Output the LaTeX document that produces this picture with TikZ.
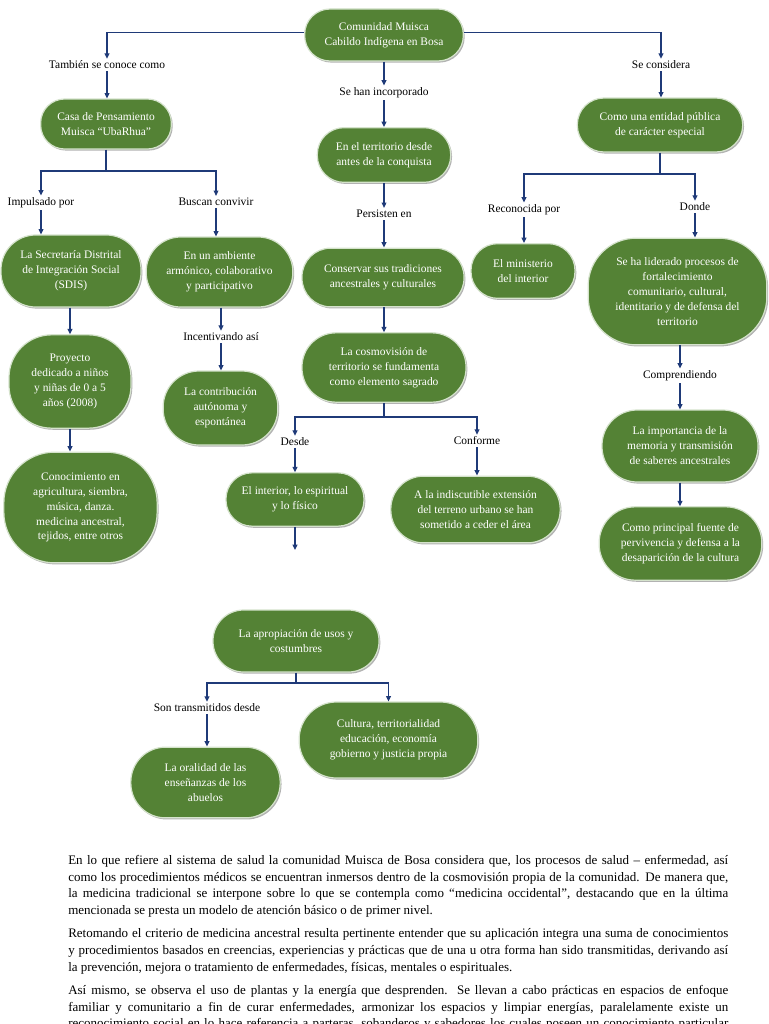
\documentclass[tikz,border=0pt]{standalone}
\usepackage{fontspec}
\setmainfont{Liberation Serif}
\usetikzlibrary{arrows.meta,shadows}
\definecolor{gfill}{HTML}{548235}
\definecolor{gline}{HTML}{D5E3CC}
\definecolor{navy}{HTML}{1F3A78}
\begin{document}
\begin{tikzpicture}[x=0.75pt,y=-0.75pt,
 gn/.style n args={3}{draw=gline, line width=0.9pt, fill=gfill, text=white, align=center,
   font=\fontsize{8.6}{11.2}\selectfont, minimum width=#1, minimum height=#2,
   rounded corners=#3, inner sep=1pt,
   drop shadow={shadow xshift=1pt, shadow yshift=-1.2pt, opacity=0.3, fill=black}},
 lb/.style={font=\fontsize{8.6}{11.2}\selectfont, inner sep=1.5pt},
 ln/.style={draw=navy, line width=0.9pt},
 arr/.style={ln, -{Triangle[width=3.6pt,length=4pt]}}
]
\useasboundingbox (0,0) rectangle (768,1024);
\fill[white] (0,0) rectangle (768,1024);
\clip (0,0) rectangle (768,1024);

% nodes
\node[gn={119pt}{39pt}{19pt}] (n1) at (384,35) {Comunidad Muisca\\Cabildo Indígena en Bosa};
\node[gn={98pt}{37.5pt}{18pt}] (n2) at (106,124) {Casa de Pensamiento\\Muisca “UbaRhua”};
\node[gn={100pt}{41pt}{20pt}] (n3) at (384,155) {En el territorio desde\\antes de la conquista};
\node[gn={124pt}{40.5pt}{20pt}] (n4) at (660,125) {Como una entidad pública\\de carácter especial};
\node[gn={105pt}{54pt}{26pt}] (n5) at (71,271) {La Secretaría Distrital\\de Integración Social\\(SDIS)};
\node[gn={110pt}{52.5pt}{26pt}] (n6) at (219.5,272) {En un ambiente\\armónico, colaborativo\\y participativo};
\node[gn={121.5pt}{44pt}{21.5pt}] (n7) at (383,277.5) {Conservar sus tradiciones\\ancestrales y culturales};
\node[gn={78pt}{41pt}{20pt}] (n8) at (523,271) {El ministerio\\del interior};
\node[gn={134pt}{80pt}{36pt}] (n9) at (677.5,291.5) {Se ha liderado procesos de\\fortalecimiento\\comunitario, cultural,\\identitario y de defensa del\\territorio};
\node[gn={91.5pt}{70pt}{32pt}] (n10) at (70,381.5) {Proyecto\\dedicado a niños\\y niñas de 0 a 5\\años (2008)};
\node[gn={86pt}{55.5pt}{27pt}] (n11) at (220.5,408) {La contribución\\autónoma y\\espontánea};
\node[gn={123pt}{52pt}{25.5pt}] (n12) at (384,367.5) {La cosmovisión de\\territorio se fundamenta\\como elemento sagrado};
\node[gn={115pt}{83pt}{38pt}] (n13) at (80.5,507.5) {Conocimiento en\\agricultura, siembra,\\música, danza.\\medicina ancestral,\\tejidos, entre otros};
\node[gn={103.5pt}{40pt}{19.5pt}] (n14) at (295,499.5) {El interior, lo espiritual\\y lo físico};
\node[gn={127pt}{50pt}{24.5pt}] (n15) at (475.5,509.5) {A la indiscutible extensión\\del terreno urbano se han\\sometido a ceder el área};
\node[gn={117pt}{54pt}{26.5pt}] (n16) at (680,446) {La importancia de la\\memoria y transmisión\\de saberes ancestrales};
\node[gn={122pt}{55pt}{27pt}] (n17) at (680.5,543.5) {Como principal fuente de\\pervivencia y defensa a la\\desaparición de la cultura};
\node[gn={124.5pt}{46.5pt}{23pt}] (n18) at (296,641) {La apropiación de usos y\\costumbres};
\node[gn={112pt}{53pt}{26pt}] (n19) at (205.5,782.5) {La oralidad de las\\enseñanzas de los\\abuelos};
\node[gn={134pt}{57pt}{28pt}] (n20) at (388.5,740) {Cultura, territorialidad\\educación, economía\\gobierno y justicia propia};

% labels
\node[lb] (l1) at (107,65) {También se conoce como};
\node[lb] (l2) at (661,65) {Se considera};
\node[lb] (l3) at (384,93) {Se han incorporado};
\node[lb] (l4) at (41,203) {Impulsado por};
\node[lb] (l5) at (216,202) {Buscan convivir};
\node[lb] (l6) at (384,214) {Persisten en};
\node[lb] (l7) at (524,210) {Reconocida por};
\node[lb] (l8) at (695,207) {Donde};
\node[lb] (l9) at (221,337) {Incentivando así};
\node[lb] (l10) at (680,376) {Comprendiendo};
\node[lb] (l11) at (295,442) {Desde};
\node[lb] (l12) at (477,441) {Conforme};
\node[lb] (l13) at (207,708) {Son transmitidos desde};

% junctions
\coordinate (j2) at (106,171);
\coordinate (j4) at (660,174);
\coordinate (j12) at (384,417);
\coordinate (j18) at (296,683);
\coordinate (e14) at (295,550);

% connectors
\draw[arr] ([yshift=2pt]n1.west) -| (l1.north);
\draw[arr] (l1.south) -- (l1.south |- n2.north);
\draw[arr] ([yshift=2pt]n1.east) -| (l2.north);
\draw[arr] (l2.south) -- (l2.south |- n4.north);
\draw[arr] (n1.south) -- (l3.north);
\draw[arr] (l3.south) -- (n3.north);

\draw[ln] (n2.south) -- (j2);
\draw[arr] (j2) -| (l4.north);
\draw[arr] (j2) -| (l5.north);
\draw[arr] (l4.south) -- (l4.south |- n5.north);
\draw[arr] (l5.south) -- (l5.south |- n6.north);

\draw[arr] (n3.south) -- (l6.north);
\draw[arr] (l6.south) -- (l6.south |- n7.north);

\draw[ln] (n4.south) -- (j4);
\draw[arr] (j4) -| (l7.north);
\draw[arr] (j4) -| (l8.north);
\draw[arr] (l7.south) -- (l7.south |- n8.north);
\draw[arr] (l8.south) -- (l8.south |- n9.north);

\draw[arr] (n10.north |- n5.south) -- (n10.north);
\draw[arr] (l9.north |- n6.south) -- (l9.north);
\draw[arr] (l9.south) -- (l9.south |- n11.north);
\draw[arr] (n7.south -| n12.north) -- (n12.north);
\draw[arr] (l10.north |- n9.south) -- (l10.north);
\draw[arr] (l10.south) -- (l10.south |- n16.north);

\draw[ln] (n12.south) -- (j12);
\draw[arr] (j12) -| (l11.north);
\draw[arr] (j12) -| (l12.north);
\draw[arr] (l11.south) -- (l11.south |- n14.north);
\draw[arr] (l12.south) -- (l12.south |- n15.north);

\draw[arr] (n10.south) -- (n10.south |- n13.north);
\draw[arr] (n14.south) -- (e14);
\draw[arr] (n16.south) -- (n16.south |- n17.north);

\draw[ln] (n18.south) -- (j18);
\draw[arr] (j18) -| (l13.north);
\draw[arr] (j18) -| (n20.north);
\draw[arr] (l13.south) -- (l13.south |- n19.north);

% body text
\node[anchor=north west, inner sep=0pt, text width=495pt, align=justify,
  font=\fontsize{9.75}{12.5}\selectfont] (body) at (68,855) {%
\setlength{\parskip}{5pt}\setlength{\parindent}{0pt}%
En lo que refiere al sistema de salud la comunidad Muisca de Bosa considera que, los procesos de salud – enfermedad, así\linebreak
como los procedimientos médicos se encuentran inmersos dentro de la cosmovisión propia de la comunidad. De manera que,\linebreak
la medicina tradicional se interpone sobre lo que se contempla como “medicina occidental”, destacando que en la última\linebreak
mencionada se presta un modelo de atención básico o de primer nivel.\par
Retomando el criterio de medicina ancestral resulta pertinente entender que su aplicación integra una suma de conocimientos\linebreak
y procedimientos basados en creencias, experiencias y prácticas que de una u otra forma han sido transmitidas, derivando así\linebreak
la prevención, mejora o tratamiento de enfermedades, físicas, mentales o espirituales.\par
Así mismo, se observa el uso de plantas y la energía que desprenden. Se llevan a cabo prácticas en espacios de enfoque\linebreak
familiar y comunitario a fin de curar enfermedades, armonizar los espacios y limpiar energías, paralelamente existe un\linebreak
reconocimiento social en lo hace referencia a parteras, sobanderos y sabedores los cuales poseen un conocimiento particular\linebreak
sobre\par};
\end{tikzpicture}
\end{document}
